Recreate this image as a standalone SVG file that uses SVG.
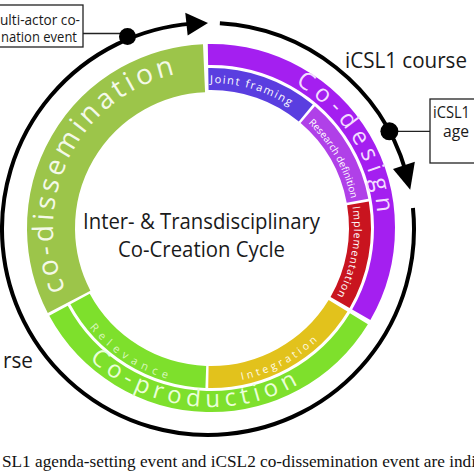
<svg xmlns="http://www.w3.org/2000/svg" width="474" height="474" viewBox="0 0 474 474">
<style>
.seg{fill:none}
.rt{font-family:"Open Sans","Liberation Sans",sans-serif}
.lbl{font-family:"Open Sans","Liberation Sans",sans-serif;fill:#1a1a1a}
.cyc{fill:none;stroke:#000;stroke-width:4}
.box{fill:#fff;stroke:#222;stroke-width:1.3}
</style>
<defs>
<path id="tp-diss" d="M 74.17 307 A 158 158 0 0 1 197.23 70.60"/>
<path id="tp-design" d="M 263.99 69.63 A 167 167 0 0 1 376.17 252.68"/>
<path id="tp-prod" d="M 82.24 352.34 A 179 179 0 0 0 311.10 376.40"/>
<path id="tp-joint" d="M 211 83 A 145 145 0 0 1 289.97 106.39"/>
<path id="tp-res" d="M 307.61 122.57 A 143 143 0 0 1 351.13 199.49"/>
<path id="tp-imp" d="M 352.43 206.86 A 143 143 0 0 1 336.67 296.23"/>
<path id="tp-int" d="M 237.92 380.65 A 155 155 0 0 0 322.50 335.67"/>
<path id="tp-rel" d="M 87.28 324.66 A 157 157 0 0 0 175.68 380.98"/>
</defs>
<rect width="474" height="474" fill="#fff"/>

<g id="co-dissemination">
<path class="seg" d="M 69.08 301.88 A 160 160 0 0 1 204.02 68.15" stroke="#9cc54a" stroke-width="48"/>
<text class="rt" font-size="28" letter-spacing="3.5" fill="#f4f9e8"><textPath href="#tp-diss" startOffset="50%" text-anchor="middle">co-dissemination</textPath></text>
</g>
<g id="co-design">
<path class="seg" d="M 207.97 54.53 A 173.5 173.5 0 0 1 361.26 314.75" stroke="#a41ff0" stroke-width="21"/>
<text class="rt" font-size="24" letter-spacing="6" fill="#f3dcff"><textPath href="#tp-design" startOffset="50%" text-anchor="middle">Co-design</textPath></text>
</g>
<g id="co-production">
<path class="seg" d="M 358.93 318.65 A 173.5 173.5 0 0 1 58.52 310.79" stroke="#7ee02c" stroke-width="21"/>
<text class="rt" font-size="24" letter-spacing="5.3" fill="#eaffd8"><textPath href="#tp-prod" startOffset="50%" text-anchor="middle">Co-production</textPath></text>
</g>
<g id="joint-framing">
<path class="seg" d="M 208.40 79.02 A 149 149 0 0 1 305.78 113.03" stroke="#5a3ee0" stroke-width="22"/>
<text class="rt" font-size="11" letter-spacing="1.5" fill="#ffffff"><textPath href="#tp-joint" startOffset="50%" text-anchor="middle">Joint framing</textPath></text>
</g>
<g id="research-definition">
<path class="seg" d="M 307.77 114.70 A 149 149 0 0 1 357.50 200.85" stroke="#b040e8" stroke-width="22"/>
<text class="rt" font-size="9.8" fill="#ffffff"><textPath href="#tp-res" startOffset="50%" text-anchor="middle">Research definition</textPath></text>
</g>
<g id="implementation">
<path class="seg" d="M 357.96 203.41 A 149 149 0 0 1 340.04 302.5" stroke="#c9141f" stroke-width="22"/>
<text class="rt" font-size="10.5" letter-spacing="1" fill="#ffffff"><textPath href="#tp-imp" startOffset="50%" text-anchor="middle">Implementation</textPath></text>
</g>
<g id="integration">
<path class="seg" d="M 338.04 305.85 A 149 149 0 0 1 208.40 376.98" stroke="#e2c21c" stroke-width="22"/>
<text class="rt" font-size="10.5" letter-spacing="3.2" fill="#fffbe6"><textPath href="#tp-int" startOffset="50%" text-anchor="middle">Integration</textPath></text>
</g>
<g id="relevance">
<path class="seg" d="M 205.80 376.91 A 149 149 0 0 1 80.06 299.10" stroke="#7ee02c" stroke-width="22"/>
<text class="rt" font-size="11" letter-spacing="5.3" fill="#d9f7bd"><textPath href="#tp-rel" startOffset="50%" text-anchor="middle">Relevance</textPath></text>
</g>

<g id="cycle-title">
<text class="lbl" font-size="21" x="83" y="229" textLength="237" lengthAdjust="spacingAndGlyphs">Inter- &amp; Transdisciplinary</text>
<text class="lbl" font-size="21" x="118" y="257" textLength="167" lengthAdjust="spacingAndGlyphs">Co-Creation Cycle</text>
</g>

<g id="connectors">
<path class="cyc" d="M 219.86 23.34 A 206 206 0 0 1 405.52 170.49"/>
<polygon points="410.22,189.69 414.86,161.79 392.98,168.89" fill="#000"/>
<path class="cyc" d="M 412.93 208.0 A 206 206 0 1 1 191.84 23.63"/>
<polygon points="208,23 185.27,12.69 187.67,35.57" fill="#000"/>
<line x1="83" y1="33.5" x2="127" y2="33.5" stroke="#222" stroke-width="1.3"/>
<circle cx="127.5" cy="36.5" r="8.5" fill="#000"/>
<line x1="389.4" y1="131.3" x2="430" y2="131.3" stroke="#222" stroke-width="1.3"/>
<circle cx="389.4" cy="131.3" r="9" fill="#000"/>
</g>

<g id="event-box-codissemination">
<rect class="box" x="-5" y="5" width="88" height="42"/>
<text class="lbl" font-size="14" x="0" y="25" textLength="80" lengthAdjust="spacingAndGlyphs">ulti-actor co-</text>
<text class="lbl" font-size="14" x="1" y="42" textLength="76" lengthAdjust="spacingAndGlyphs">nation event</text>
</g>
<g id="event-box-agenda">
<rect class="box" x="430" y="99" width="60" height="64"/>
<text class="lbl" font-size="16.5" x="433" y="118" textLength="37" lengthAdjust="spacingAndGlyphs">iCSL1</text>
<text class="lbl" font-size="16.5" x="443" y="137" textLength="26" lengthAdjust="spacingAndGlyphs">age</text>
</g>
<g id="course-labels">
<text class="lbl" font-size="22" x="345" y="68" textLength="122" lengthAdjust="spacingAndGlyphs">iCSL1 course</text>
<text class="lbl" font-size="22" x="3" y="368" textLength="30" lengthAdjust="spacingAndGlyphs">rse</text>
</g>
<text x="2" y="467" font-family="'Liberation Serif','Times New Roman',serif" font-size="17" fill="#111" textLength="474" lengthAdjust="spacingAndGlyphs">SL1 agenda-setting event and iCSL2 co-dissemination event are indi</text>
</svg>
